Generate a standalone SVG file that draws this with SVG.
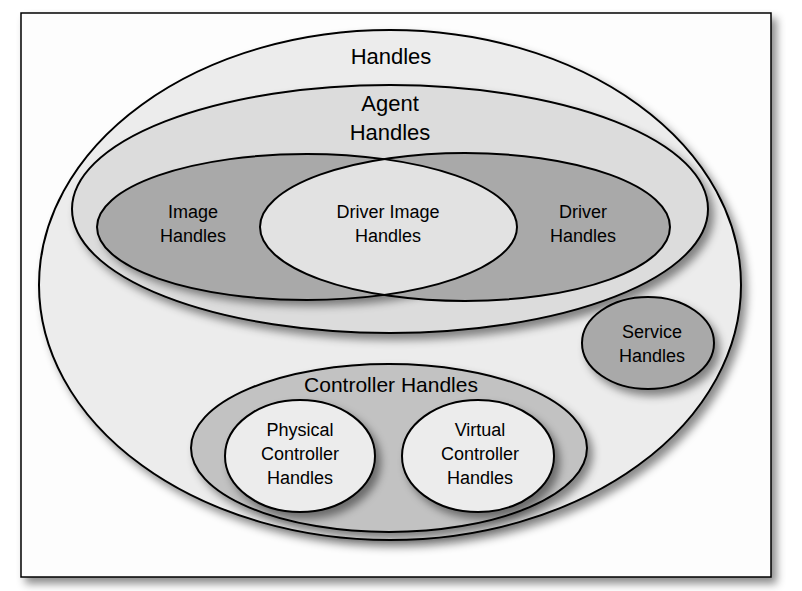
<svg xmlns="http://www.w3.org/2000/svg" width="802" height="591" viewBox="0 0 802 591">
<defs>
<filter id="sh" x="-20%" y="-20%" width="150%" height="150%"><feDropShadow dx="5" dy="6" stdDeviation="4" flood-color="#000" flood-opacity="0.45"/></filter>
<clipPath id="drv"><ellipse cx="465" cy="227" rx="205" ry="74"/></clipPath>
<style>
.e{stroke:#000;stroke-width:2}
.t{font-family:"Liberation Sans",Arial,sans-serif;fill:#000;text-anchor:middle;font-size:18px}
.big{font-size:22px}
</style>
</defs>
<rect width="802" height="591" fill="#fff"/>
<rect x="21" y="13" width="750" height="564" fill="#fdfdfd" stroke="#000" stroke-width="1.5" filter="url(#sh)"/>
<g id="handles"><ellipse class="e" cx="390" cy="285" rx="351" ry="255" fill="#ececec" filter="url(#sh)"/><text class="t big" x="391" y="64">Handles</text></g>
<g id="agent"><ellipse class="e" cx="390" cy="209" rx="318" ry="124" fill="#dcdcdc" filter="url(#sh)"/><text class="t big" x="390" y="111">Agent</text><text class="t big" x="390" y="140">Handles</text></g>
<g id="image"><ellipse cx="307" cy="227" rx="210" ry="73" fill="#a9a9a9" filter="url(#sh)"/><text class="t" x="193" y="218">Image</text><text class="t" x="193" y="242">Handles</text></g>
<g id="driver"><ellipse cx="465" cy="227" rx="205" ry="74" fill="#a9a9a9"/><text class="t" x="583" y="218">Driver</text><text class="t" x="583" y="242">Handles</text></g>
<g id="driverimage"><ellipse cx="307" cy="227" rx="210" ry="73" fill="#e2e2e2" clip-path="url(#drv)"/>
<ellipse cx="307" cy="227" rx="210" ry="73" fill="none" stroke="#000" stroke-width="2"/>
<ellipse cx="465" cy="227" rx="205" ry="74" fill="none" stroke="#000" stroke-width="2"/>
<text class="t" x="388" y="218">Driver Image</text><text class="t" x="388" y="242">Handles</text></g>
<g id="service"><ellipse class="e" cx="648" cy="343" rx="66" ry="46" fill="#a9a9a9" filter="url(#sh)"/><text class="t" x="652" y="338">Service</text><text class="t" x="652" y="362">Handles</text></g>
<g id="controller"><ellipse class="e" cx="389" cy="448" rx="198" ry="84" fill="#c2c2c2" filter="url(#sh)"/><text class="t" x="391" y="392" style="font-size:21px">Controller Handles</text></g>
<g id="physical"><ellipse class="e" cx="300" cy="456" rx="75" ry="56" fill="#ececec" filter="url(#sh)"/><text class="t" x="300" y="436">Physical</text><text class="t" x="300" y="460">Controller</text><text class="t" x="300" y="484">Handles</text></g>
<g id="virtual"><ellipse class="e" cx="478" cy="456" rx="76" ry="56" fill="#ececec" filter="url(#sh)"/><text class="t" x="480" y="436">Virtual</text><text class="t" x="480" y="460">Controller</text><text class="t" x="480" y="484">Handles</text></g>
<g id="connectors"/>
</svg>
